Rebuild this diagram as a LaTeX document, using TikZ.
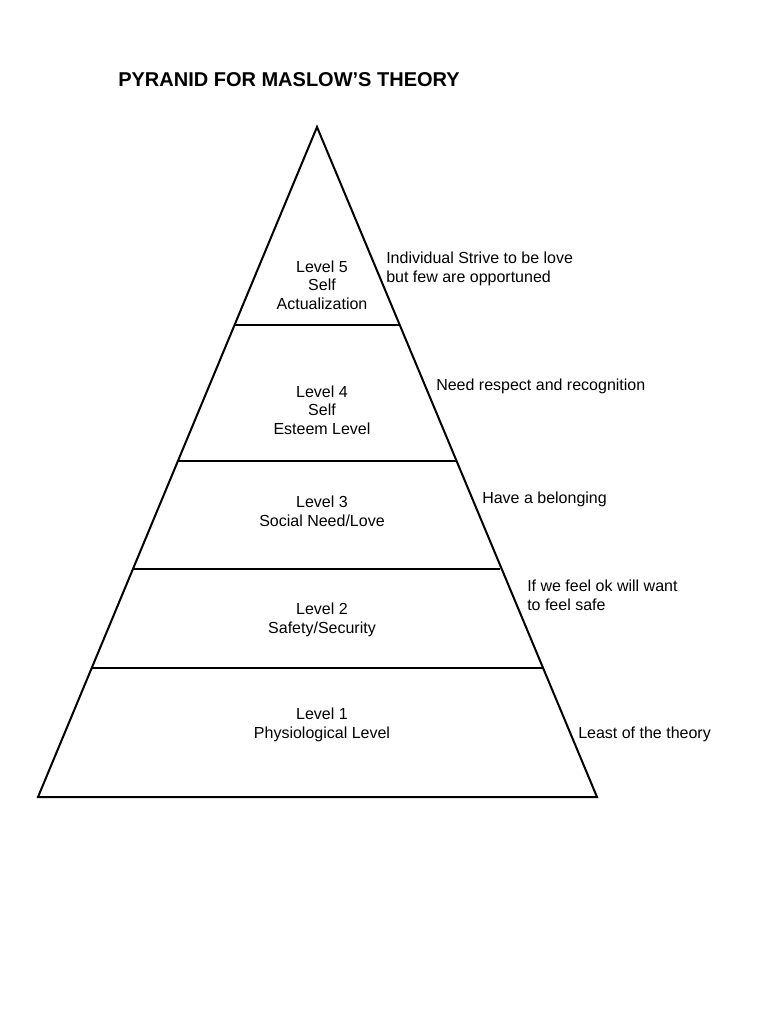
\documentclass[tikz,border=0pt]{standalone}
\usepackage{fontspec}
\setmainfont{Liberation Sans}
\begin{document}
\begin{tikzpicture}[x=0.75pt, y=-0.75pt, every node/.style={font=\fontsize{12}{14}\selectfont, align=center}, level/.style={inner sep=0pt}, note/.style={anchor=west, align=left, inner sep=0pt}]
        \useasboundingbox (0,0) rectangle (768,1024);
        % Title
        \node[anchor=west, inner sep=0pt, font=\fontsize{15}{18}\selectfont\bfseries] (title) at (118,80) {PYRANID FOR MASLOW’S THEORY};

        % Pyramid
        \coordinate (top) at (317,127);
        \coordinate (bl) at (38,797);
        \coordinate (br) at (597,797);
        \draw[line width=1.5pt, line join=miter] (top) -- (bl) -- (br) -- cycle;

        % Dividers
        \draw[line width=1.5pt] (235,325) -- (399,325);
        \draw[line width=1.5pt] (178,461) -- (457,461);
        \draw[line width=1.5pt] (133,569) -- (500,569);
        \draw[line width=1.5pt] (92,668) -- (543,668);

        % Levels
        \node[level] (l5) at (322,285) {Level 5\\Self\\Actualization};
        \node[level] (l4) at (322,410) {Level 4\\Self\\Esteem Level};
        \node[level] (l3) at (322,511) {Level 3\\Social Need/Love};
        \node[level] (l2) at (322,620) {Level 2\\Safety/Security};
        \node[level] (l1) at (322,725) {Level 1\\Physiological Level};

        % Notes
        \node[note] (n5) at (386,269) {Individual Strive to be love\\but few are opportuned};
        \node[note] (n4) at (436,386) {Need respect and recognition};
        \node[note] (n3) at (482,499) {Have a belonging};
        \node[note] (n2) at (527,595) {If we feel ok will want\\to feel safe};
        \node[note] (n1) at (578,734) {Least of the theory};
    \end{tikzpicture}
\end{document}
